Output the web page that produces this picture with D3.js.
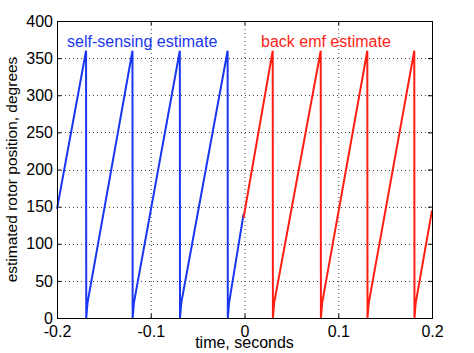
<!DOCTYPE html>
<html>
<head>
<meta charset="utf-8">
<script src="https://cdn.jsdelivr.net/npm/d3@7"></script>
<style>
body { margin: 0; background: #fff; }
svg { display: block; font-family: "Liberation Sans", Arial, sans-serif; }
</style>
</head>
<body>
<div id="chart"></div>
<script>
// sawtooth vertices (time in s, angle in degrees)
const blueT   = [-0.2, -0.169, -0.1688, -0.1675, -0.1195, -0.1193, -0.118, -0.069, -0.0688, -0.0675, -0.018, -0.0178, -0.0165, -0.001];
const blueDeg = [147, 360, 0, 20, 360, 0, 20, 360, 0, 20, 360, 0, 20, 140];
const redT    = [-0.001, 0.0301, 0.0303, 0.0316, 0.0813, 0.0815, 0.0828, 0.131, 0.1312, 0.1325, 0.1811, 0.1813, 0.1826, 0.2];
const redDeg  = [135, 360, 0, 20, 360, 0, 20, 360, 0, 20, 360, 0, 20, 145];
const xTicks = [-0.2, -0.1, 0, 0.1, 0.2];
const yTicks = [0, 50, 100, 150, 200, 250, 300, 350, 400];
const labels = ["self-sensing estimate", "back emf estimate"];

const width = 474, height = 353;
const margin = {top: 21, right: 42, bottom: 35, left: 57};

const svg = d3.select('#chart').append('svg')
    .attr('width', width)
    .attr('height', height);

const x = d3.scaleLinear().domain([-0.2, 0.2]).range([margin.left, width - margin.right]);
const y = d3.scaleLinear().domain([0, 400]).range([height - margin.bottom, margin.top]);

const x0 = x.range()[0], x1 = x.range()[1];
const y0 = y.range()[0], y1 = y.range()[1];

// dotted grid
svg.append('g')
    .selectAll('line')
    .data(xTicks.slice(1, -1))
    .join('line')
    .attr('x1', d => x(d) + 0.5).attr('x2', d => x(d) + 0.5)
    .attr('y1', y1).attr('y2', y0)
    .attr('stroke', '#444').attr('stroke-dasharray', '1,3');
svg.append('g')
    .selectAll('line')
    .data(yTicks.slice(1, -1))
    .join('line')
    .attr('x1', x0).attr('x2', x1)
    .attr('y1', d => Math.round(y(d)) + 0.5).attr('y2', d => Math.round(y(d)) + 0.5)
    .attr('stroke', '#444').attr('stroke-dasharray', '1,3');

// axes with inward ticks (box on)
function fmtX(d) { return d === 0 ? "0" : d3.format(".1f")(d).replace("\u2212", "-"); }

svg.append('g')
    .attr('transform', `translate(0,${y0})`)
    .call(d3.axisBottom(x).tickValues(xTicks).tickSizeInner(-4).tickSizeOuter(0).tickPadding(8).tickFormat(fmtX))
    .call(g => g.select('.domain').remove());
svg.append('g')
    .attr('transform', `translate(0,${y1})`)
    .call(d3.axisTop(x).tickValues(xTicks).tickSizeInner(-4).tickSizeOuter(0).tickFormat(''))
    .call(g => g.select('.domain').remove());
svg.append('g')
    .attr('transform', `translate(${x0},0)`)
    .call(d3.axisLeft(y).tickValues(yTicks).tickSizeInner(-4).tickSizeOuter(0).tickPadding(4))
    .call(g => g.select('.domain').remove());
svg.append('g')
    .attr('transform', `translate(${x1},0)`)
    .call(d3.axisRight(y).tickValues(yTicks).tickSizeInner(-4).tickSizeOuter(0).tickFormat(''))
    .call(g => g.select('.domain').remove());

svg.selectAll('.tick text')
    .attr('font-size', '16px')
    .attr('font-family', '"Liberation Sans", Arial, sans-serif')
    .attr('fill', '#000');
svg.selectAll('.tick line').attr('stroke', '#000');

// series
const line = d3.line().x(d => x(d[0])).y(d => y(d[1]));
svg.append('path')
    .datum(d3.zip(blueT, blueDeg))
    .attr('d', line)
    .attr('fill', 'none')
    .attr('stroke', 'rgb(25,55,240)')
    .attr('stroke-width', 2);
svg.append('path')
    .datum(d3.zip(redT, redDeg))
    .attr('d', line)
    .attr('fill', 'none')
    .attr('stroke', 'rgb(255,30,20)')
    .attr('stroke-width', 2);

// box
svg.append('rect')
    .attr('x', x0 + 0.5).attr('y', y1 + 0.5)
    .attr('width', x1 - x0).attr('height', y0 - y1)
    .attr('fill', 'none').attr('stroke', '#000');

// annotations
svg.append('text')
    .attr('x', 67).attr('y', 47)
    .attr('font-size', '16px')
    .attr('fill', 'rgb(25,55,240)')
    .text(labels[0]);
svg.append('text')
    .attr('x', 261).attr('y', 47)
    .attr('font-size', '16px')
    .attr('fill', 'rgb(255,30,20)')
    .text(labels[1]);

// axis titles
svg.append('text')
    .attr('x', x(0)).attr('y', 348)
    .attr('text-anchor', 'middle')
    .attr('font-size', '16px')
    .text('time, seconds');
svg.append('text')
    .attr('transform', `translate(17,${(y0 + y1) / 2}) rotate(-90)`)
    .attr('text-anchor', 'middle')
    .attr('font-size', '15.5px')
    .text('estimated rotor position, degrees');
</script>
</body>
</html>
